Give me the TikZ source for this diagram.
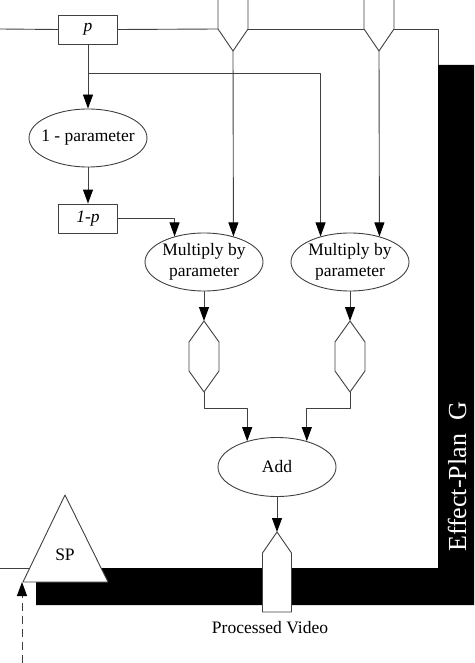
\documentclass[tikz,border=0pt]{standalone}
\usepackage{fontspec}
\setmainfont{Liberation Serif}
\usetikzlibrary{shapes.geometric,arrows.meta}

\begin{document}
\begin{tikzpicture}[
        x = 1pt, y = -1pt,
        line join=round,
        wire/.style = {line width=0.9pt, black!75},
        arrowstyle/.style = {wire, -{Triangle[length=14pt, width=10pt, black]}},
        boxstyle/.style = {wire, draw, rectangle, minimum width=59pt, minimum height=29pt, inner sep=0pt, text=black, font=\fontsize{17.5}{21}\selectfont\itshape},
        ovalstyle/.style = {wire, draw, ellipse, minimum width=118pt, minimum height=58pt, inner sep=0pt, align=center, text=black, font=\fontsize{17.5}{21}\selectfont}
    ]

    \useasboundingbox (0, 0) rectangle (474, 663);

    % frame
    \draw[wire] (394, 29) -- (438, 29) -- (438, 568);
    \fill[black] (36, 568) -- (438, 568) -- (438, 65) -- (474, 65) -- (474, 605) -- (36, 605) -- cycle;
    \draw[wire] (0, 568) -- (36, 568);
    \node[rotate=90, text=white, font=\fontsize{26}{30}\selectfont] (plan) at (457, 477) {Effect-Plan\ \ G};

    % input ports
    \foreach \x/\n in {233/A, 379/B} {
        \draw[wire, fill=white] (\x-15, -2) -- (\x-15, 29) -- (\x, 51) -- (\x+15, 29) -- (\x+15, -2);
        \coordinate (in\n) at (\x, 51);
    }

    \node[boxstyle] (p) at (88, 29.5) {p};
    \node[ovalstyle, inner xsep=-5pt] (onem) at (88, 138) {1 - parameter};
    \node[boxstyle] (omp) at (88, 218.5) {1-p};
    \node[ovalstyle] (mulA) at (204, 262) {Multiply by\\parameter};
    \node[ovalstyle] (mulB) at (350, 262) {Multiply by\\parameter};
    \node[ovalstyle, minimum height=59pt] (add) at (277, 467) {Add};

    \draw[wire] (0, 29) -- (p.west);
    \draw[wire] (p.east) -- (218, 29);
    \draw[wire] (248, 29) -- (364, 29);

    % hexagons
    \foreach \x/\n in {204/A, 350/B} {
        \draw[wire] (\x, 321) -- (\x+15, 342) -- (\x+15, 371) -- (\x, 392) -- (\x-15, 371) -- (\x-15, 342) -- cycle;
        \coordinate (hex\n top) at (\x, 321);
        \coordinate (hex\n bot) at (\x, 392);
    }

    % output port and SP
    \draw[wire, fill=white] (262.5, 612) -- (262.5, 553) -- (277, 532) -- (291.5, 553) -- (291.5, 612) -- cycle;
    \coordinate (outtip) at (277, 532);
    \node[font=\fontsize{17.5}{21}\selectfont] (outlabel) at (270, 628) {Processed Video};

    \draw[wire, fill=white] (23, 582) -- (65, 495) -- (108, 582) -- cycle;
    \node[font=\fontsize{17.5}{21}\selectfont] (sp) at (65, 555) {SP};
    \coordinate (spfoot) at (22, 582);
    \coordinate (spin) at (22, 663);

    % connectors
    \coordinate (split) at (88, 73);
    \draw[arrowstyle] (p.south) -- (onem.north);
    \draw[arrowstyle] (split) -| (mulB.139);
    \draw[arrowstyle] (onem.south) -- (omp.north);
    \draw[arrowstyle] (omp.east) -| (mulA.139);
    \draw[arrowstyle] (inA) -- (mulA.41);
    \draw[arrowstyle] (inB) -- (mulB.41);
    \draw[arrowstyle] (mulA.south) -- (hexAtop);
    \draw[arrowstyle] (mulB.south) -- (hexBtop);
    \draw[arrowstyle] (hexAbot) -- ++(0, 16) -| (add.139);
    \draw[arrowstyle] (hexBbot) -- ++(0, 16) -| (add.41);
    \draw[arrowstyle] (add.south) -- (outtip);
    \draw[arrowstyle, dash pattern=on 8pt off 5pt] (spin) -- (spfoot);

\end{tikzpicture}
\end{document}
